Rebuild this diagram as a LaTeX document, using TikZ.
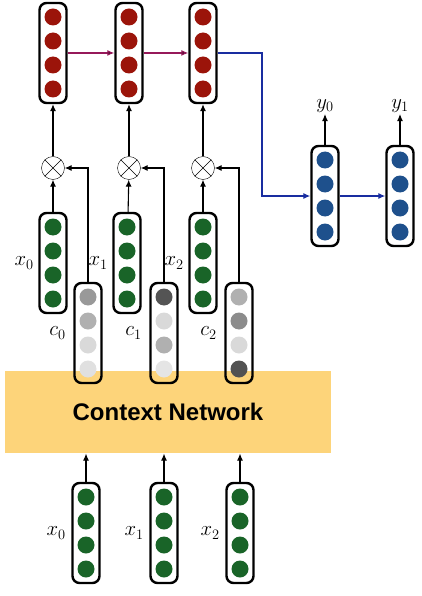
\documentclass[tikz,border=0pt]{standalone}
\usepackage{fontspec}
\newfontfamily\headfont{Liberation Sans}
\usetikzlibrary{arrows.meta,shapes,positioning,calc}

\definecolor{unitred}{RGB}{155,20,10}
\definecolor{unitgreen}{RGB}{25,100,40}
\definecolor{unitblue}{RGB}{30,80,140}
\definecolor{ctxorange}{RGB}{253,212,122}
\definecolor{recurlink}{RGB}{150,25,90}
\definecolor{outlink}{RGB}{25,45,160}

\tikzset{
  vbox/.style={draw=black,line width=2.4pt,rounded corners=7pt,minimum width=27pt,minimum height=100pt,inner sep=0pt},
  unit/.style={circle,inner sep=0pt,minimum size=17pt},
  lab/.style={font=\fontsize{21}{24}\selectfont,inner sep=1pt},
  mult/.style={circle,draw=black,thin,fill=white,minimum size=23pt,inner sep=0pt},
  recur/.style={draw=recurlink,line width=1.2pt},
  outl/.style={draw=outlink,line width=1.2pt},
}

\newcommand{\vecbox}[3]{%
  \node[vbox](#1)at(#2){};
  \foreach \col [count=\i] in {#3}
    \node[unit,fill=\col](#1u\i)at($(#1)+(0,-60+24*\i)$){};
}

\begin{document}
\begin{tikzpicture}[->,>={Latex[length=7pt,width=6pt]},x=1pt,y=-1pt,line width=1.1pt]
            \useasboundingbox (0,0) rectangle (422,596);
            \node[fill=ctxorange,minimum width=326pt,minimum height=82pt,inner sep=0pt,
                  font=\headfont\bfseries\fontsize{24}{28}\selectfont](ctx)at(168, 412){Context Network};
            \vecbox{r0}{53, 53}{unitred,unitred,unitred,unitred}
            \vecbox{r1}{129, 53}{unitred,unitred,unitred,unitred}
            \vecbox{r2}{203, 53}{unitred,unitred,unitred,unitred}
            \vecbox{g0}{53, 263}{unitgreen,unitgreen,unitgreen,unitgreen}
            \vecbox{g1}{127, 263}{unitgreen,unitgreen,unitgreen,unitgreen}
            \vecbox{g2}{203, 263}{unitgreen,unitgreen,unitgreen,unitgreen}
            \vecbox{c0}{88, 333}{black!40,black!31,black!15,black!12}
            \vecbox{c1}{164, 333}{black!67,black!15,black!31,black!10}
            \vecbox{c2}{239, 333}{black!31,black!45,black!15,black!68}
            \vecbox{bx0}{86, 533}{unitgreen,unitgreen,unitgreen,unitgreen}
            \vecbox{bx1}{164, 533}{unitgreen,unitgreen,unitgreen,unitgreen}
            \vecbox{bx2}{240, 533}{unitgreen,unitgreen,unitgreen,unitgreen}
            \vecbox{b0}{325, 196}{unitblue,unitblue,unitblue,unitblue}
            \vecbox{b1}{400, 196}{unitblue,unitblue,unitblue,unitblue}
            \node[mult](m0)at(53, 168){};
            \node[mult](m1)at(129, 168){};
            \node[mult](m2)at(203, 168){};
            \foreach \m in {m0,m1,m2}
              \draw[-,thin] (\m.north east) -- (\m.south west) (\m.north west) -- (\m.south east);
            \node[lab,left=3pt of g0](lg0){$x_0$};
            \node[lab,left=3pt of g1](lg1){$x_1$};
            \node[lab,left=3pt of g2](lg2){$x_2$};
            \node[lab,left=6pt of c0](lc0){$c_0$};
            \node[lab,left=6pt of c1](lc1){$c_1$};
            \node[lab,left=6pt of c2](lc2){$c_2$};
            \node[lab,left=4pt of bx0](lbx0){$x_0$};
            \node[lab,left=4pt of bx1](lbx1){$x_1$};
            \node[lab,left=4pt of bx2](lbx2){$x_2$};
            \node[lab](y0)at(325, 106){$y_0$};
            \node[lab](y1)at(400, 106){$y_1$};
            \coordinate(turn)at(262, 120);
            \path[recur](r0) edge (r1)
            (r1) edge (r2);
            \draw[outl](r2.east) -| (turn) |- (b0.west);
            \draw[outl](b0) -- (b1);
            \path(g0) edge (m0)
            (g1) edge (m1)
            (g2) edge (m2)
            (m0) edge (r0)
            (m1) edge (r1)
            (m2) edge (r2)
            (b0) edge (y0)
            (b1) edge (y1);
            \draw(c0.north) |- (m0.east);
            \draw(c1.north) |- (m1.east);
            \draw(c2.north) |- (m2.east);
            \draw(bx0.north) -- (bx0.north |- ctx.south);
            \draw(bx1.north) -- (bx1.north |- ctx.south);
            \draw(bx2.north) -- (bx2.north |- ctx.south);
        \end{tikzpicture}
\end{document}
